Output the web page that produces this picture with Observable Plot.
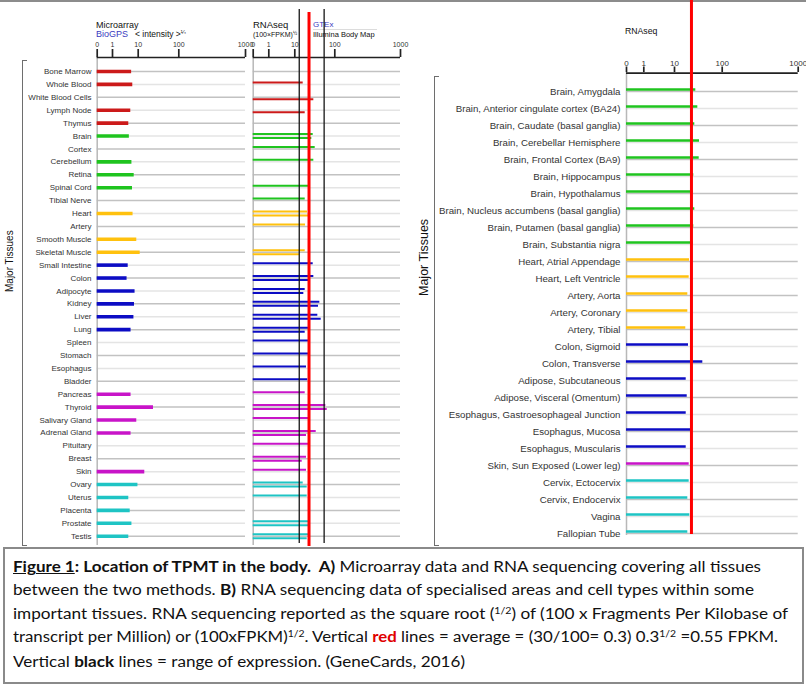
<!DOCTYPE html>
<html><head><meta charset="utf-8">
<script src="https://cdn.jsdelivr.net/npm/d3@7"></script>
<script src="https://cdn.jsdelivr.net/npm/@observablehq/plot@0.6"></script>
<style>
body{margin:0;background:#fff;font-family:"Liberation Sans",Arial,sans-serif;}
#page{position:relative;width:806px;height:690px;overflow:hidden;background:#fff;}
#page svg{position:absolute;top:0;left:0;overflow:visible;max-width:none !important;}
.t{position:absolute;white-space:nowrap;line-height:1;color:#111;}
.t sup{font-size:70%;vertical-align:0.45em;line-height:0;}
.cap{position:absolute;left:13px;white-space:nowrap;font-family:Lato,"Open Sans",sans-serif;font-size:15.5px;color:#111;line-height:1;transform-origin:0 50%;}
.cap sup{font-size:62%;vertical-align:0.55em;line-height:0;}
</style></head><body><div id="page"></div>
<script>
// ---------- data ----------
const xTicks = [0, 1, 10, 100, 1000];

const tissuesA = ["Bone Marrow","Whole Blood","White Blood Cells","Lymph Node","Thymus",
  "Brain","Cortex","Cerebellum","Retina","Spinal Cord","Tibial Nerve",
  "Heart","Artery","Smooth Muscle","Skeletal Muscle",
  "Small Intestine","Colon","Adipocyte","Kidney","Liver","Lung","Spleen","Stomach","Esophagus","Bladder",
  "Pancreas","Thyroid","Salivary Gland","Adrenal Gland","Pituitary","Breast","Skin",
  "Ovary","Uterus","Placenta","Prostate","Testis"];
const groupA = ["blood","blood","blood","blood","blood",
  "nerve","nerve","nerve","nerve","nerve","nerve",
  "muscle","muscle","muscle","muscle",
  "internal","internal","internal","internal","internal","internal","internal","internal","internal","internal",
  "secretory","secretory","secretory","secretory","secretory","secretory","secretory",
  "reproductive","reproductive","reproductive","reproductive","reproductive"];
// Microarray (BioGPS) intensity
const microarrayA = [7.7,8.1,null,7.4,6.7, 6.9,null,7.8,8.6,8.0,null, 8.2,null,9.5,14.4,
  6.5,6.1,8.9,8.7,8.5,7.5,null,null,null,null, 7.5,43.9,9.5,7.5,null,null,24.6, 9.9,6.7,7.2,7.8,6.7];
// RNAseq GTEx (upper bar of each row)
const gtexA = [null,28.9,null,null,null, 51.4,55.9,52.8,null,40.8,33.4, 38.6,34.1,null,33.4,
  51.4,52.8,33.4,66.3,61.8,40.8,43.1,40.8,36.3,39.3, 33.4,79.8,43.8,58.2,43.1,36.3,36.3, 28.9,37.9,null,43.1,40.8];
// RNAseq Illumina Body Map (lower bar of each row)
const illuminaA = [null,null,52.8,33.4,null, 48.3,null,null,null,null,null, 41.5,null,null,21.3,
  null,42.4,30.3,63.3,69.4,33.4,null,null,null,null, null,82.9,null,36.3,null,26.7,null, 37.9,null,null,43.1,37.9];

const tissuesB = ["Brain, Amygdala","Brain, Anterior cingulate cortex (BA24)","Brain, Caudate (basal ganglia)",
  "Brain, Cerebellar Hemisphere","Brain, Frontal Cortex (BA9)","Brain, Hippocampus","Brain, Hypothalamus",
  "Brain, Nucleus accumbens (basal ganglia)","Brain, Putamen (basal ganglia)","Brain, Substantia nigra",
  "Heart, Atrial Appendage","Heart, Left Ventricle","Artery, Aorta","Artery, Coronary","Artery, Tibial",
  "Colon, Sigmoid","Colon, Transverse","Adipose, Subcutaneous","Adipose, Visceral (Omentum)",
  "Esophagus, Gastroesophageal Junction","Esophagus, Mucosa","Esophagus, Muscularis",
  "Skin, Sun Exposed (Lower leg)","Cervix, Ectocervix","Cervix, Endocervix","Vagina","Fallopian Tube"];
const groupB = ["nerve","nerve","nerve","nerve","nerve","nerve","nerve","nerve","nerve","nerve",
  "muscle","muscle","muscle","muscle","muscle",
  "internal","internal","internal","internal","internal","internal","internal",
  "secretory","reproductive","reproductive","reproductive","reproductive"];
const rnaseqB = [50.2,54.0,48.3,57.2,56.6,46.4,45.3,48.3,46.4,45.3,
  38.3,37.7,35.1,35.1,31.3, 36.4,63.4,32.1,34.0,32.1,40.2,32.1, 37.7, 37.7,35.1,38.9,35.1];

const averageExpression = [42];
const expressionRange = [20, 76];

const groups = ["blood","nerve","muscle","internal","secretory","reproductive"];
const palette = ["#cc1a1a","#1fc41f","#ffc10e","#0c0cc4","#c814c8","#1ec4c4"];

// ---------- helpers ----------
const rowsA = tissuesA.map((t,i)=>({tissue:t, group:groupA[i], i, micro:microarrayA[i], gtex:gtexA[i], illu:illuminaA[i]}));
const rowsB = tissuesB.map((t,i)=>({tissue:t, group:groupB[i], i, v:rnaseqB[i]}));
const font = "Liberation Sans, Arial, sans-serif";
const xScale = range => ({type:"linear", domain:xTicks, range, label:null});
const colorOpts = {domain:groups, range:palette};
const gridMarks = rows => [
  Plot.ruleY(rows.filter(d=>d.i%2===0), {y:"tissue", x1:0, x2:1000, stroke:"#c2c2c2", strokeWidth:1.5}),
  Plot.ruleY(rows.filter(d=>d.i%2===1), {y:"tissue", x1:0, x2:1000, stroke:"#e4e4e4", strokeWidth:1.5})
];
const page = document.getElementById("page");
function place(svg, left, width, id, z){ const w=document.createElement("div"); w.id=id;
  w.style.cssText="position:absolute;top:0;left:"+left+"px;width:"+width+"px;height:548px;z-index:"+(z||1)+";pointer-events:none;";
  w.appendChild(svg); page.appendChild(w); }

// top axis drawn in its own plot (ticks point up from the axis line, labels above)
function axisPlot(cfg){
  return Plot.plot({
    width:cfg.width, height:548, marginLeft:cfg.marginLeft, marginRight:cfg.marginRight, marginTop:cfg.marginTop, marginBottom:0,
    style:{background:"transparent", fontFamily:font, fontSize:cfg.fontSize+"px", color:"#333"},
    x:{...xScale(cfg.range), axis:"top", ticks:xTicks, tickFormat:d=>String(d), tickSize:0, tickPadding:cfg.tickLen+cfg.pad},
    y:{type:"point", domain:cfg.domain, range:cfg.yRange, padding:0, axis:null},
    marks:[
      Plot.ruleX(xTicks, {x:d=>d, stroke:"#222", strokeWidth:1.7, insetTop:-cfg.tickLen, insetBottom:548-cfg.marginTop}),
      Plot.ruleY([cfg.domain[0]], {y:d=>d, x1:0, x2:1000, dy:-(cfg.yRange[0]-cfg.marginTop), stroke:"#222", strokeWidth:1.7})
    ]
  });
}

// ---------- Panel A: microarray ----------
const rangeA = [96.7,112,137.7,178.3,245];
const plotA = Plot.plot({
  width:250, height:548, marginLeft:97, marginRight:5, marginTop:57, marginBottom:0,
  style:{background:"transparent", fontFamily:font, fontSize:"8px", color:"#333"},
  x: {...xScale(rangeA), axis:null},
  y: {type:"point", domain:tissuesA, range:[71,535.7], padding:0, axis:"left", tickSize:0, tickPadding:6, label:null},
  color: colorOpts,
  marks:[
    ...gridMarks(rowsA),
    Plot.ruleX([0], {stroke:"#b8b8b8", strokeWidth:1.5, insetBottom:3}),
    Plot.ruleY(rowsA.filter(d=>d.micro!=null), {y:"tissue", x1:0, x2:"micro", stroke:"group", strokeWidth:3.6})
  ]
});
place(plotA, 0, 250, "plotA");

// ---------- Panel A: RNAseq ----------
const rangeR = [2.7,18.3,44.3,84.3,150];
const plotR = Plot.plot({
  width:170, height:548, marginLeft:2.7, marginRight:20, marginTop:57, marginBottom:0,
  style:{background:"transparent", fontFamily:font, fontSize:"7px", color:"#333"},
  x: {...xScale(rangeR), axis:null},
  y: {type:"point", domain:tissuesA, range:[71,535.7], padding:0, axis:null},
  color: colorOpts,
  marks:[
    ...gridMarks(rowsA),
    Plot.ruleX([0], {stroke:"#b8b8b8", strokeWidth:1.5, insetBottom:3}),
    Plot.ruleY(rowsA.filter(d=>d.gtex!=null), {y:"tissue", x1:0, x2:"gtex", stroke:"group", strokeWidth:2, dy:-2}),
    Plot.ruleY(rowsA.filter(d=>d.illu!=null), {y:"tissue", x1:0, x2:"illu", stroke:"group", strokeWidth:2, dy:2})
  ]
});
place(plotR, 250, 170, "plotR");

// ---------- Panel B: RNAseq specialised areas ----------
const rangeB = [206,223.3,254,301.7,377.7];
const plotB = Plot.plot({
  width:386, height:548, marginLeft:206, marginRight:8.3, marginTop:72, marginBottom:0,
  style:{background:"transparent", fontFamily:font, fontSize:"9.7px", color:"#333"},
  x: {...xScale(rangeB), axis:null},
  y: {type:"point", domain:tissuesB, range:[90.3,532.7], padding:0, axis:"left", tickSize:0, tickPadding:6, label:null},
  color: colorOpts,
  marks:[
    ...gridMarks(rowsB),
    Plot.ruleX([0], {stroke:"#b8b8b8", strokeWidth:1.5, insetBottom:13}),
    Plot.ruleY(rowsB, {y:"tissue", x1:0, x2:"v", stroke:"group", strokeWidth:2.6, dy:-2})
  ]
});
place(plotB, 420, 386, "plotB");

// ---------- text, brackets, caption ----------
function txt(html, left, top, size, extra){ const d=document.createElement("div"); d.className="t"; d.innerHTML=html;
  d.style.left=left+"px"; d.style.top=top+"px"; d.style.fontSize=size+"px"; if(extra) d.style.cssText+=extra; page.appendChild(d); return d; }
function box(css){ const d=document.createElement("div"); d.style.cssText="position:absolute;"+css; page.appendChild(d); return d; }

box("left:0;top:0;width:806px;height:2px;background:#8c8c8c;");
txt("Microarray", 96, 20.5, 9);
txt("BioGPS", 96, 29.5, 9, "color:#3b3bc0;");
txt("&lt; intensity &gt;<sup>¼</sup>", 135, 30, 8.5);
txt("RNAseq", 253, 20, 9.5);
txt("(100×FPKM)<sup>½</sup>", 253, 31, 7);
txt("GTEx", 313, 20.5, 8, "color:#3b3bc0;");
box("left:313px;top:28.5px;width:64px;height:1px;background:#dcdcdc;");
txt("Illumina Body Map", 313, 30.5, 7.5);
txt("RNAseq", 625, 27, 8.7);

// rotated "Major Tissues"
const m1 = txt("Major Tissues", 0, 0, 10, "transform-origin:0 0;");
m1.style.left = "5px"; m1.style.top = (261 + 31) + "px"; m1.style.transform = "rotate(-90deg)";
const m2 = txt("Major Tissues", 0, 0, 12.5, "transform-origin:0 0;");
m2.style.left = "418px"; m2.style.top = (257 + 39) + "px"; m2.style.transform = "rotate(-90deg)";

// brackets
box("left:21.5px;top:60px;width:4px;height:484px;border:1.4px solid #6e6e6e;border-right:none;");
box("left:433.5px;top:76px;width:4px;height:468px;border:1.4px solid #6e6e6e;border-right:none;");

// caption box
box("left:3px;top:547px;width:797px;height:133px;border:2px solid #8a8a8a;background:#fff;");
const capLines = [
  ["<b><u>Figure 1</u>: Location of TPMT in the body.&nbsp; A)</b> Microarray data and RNA sequencing covering all tissues", 567, 761],
  ["between the two methods. <b>B)</b> RNA sequencing data of specialised areas and cell types within some", 590, 754],
  ["important tissues. RNA sequencing reported as the square root (<sup>1/2</sup>) of (100 x Fragments Per Kilobase of", 613.5, 788],
  ["transcript per Million) or (100xFPKM)<sup>1/2</sup>. Vertical <b style=\"color:#e00000\">red</b> lines = average = (30/100= 0.3) 0.3<sup>1/2</sup> =0.55 FPKM.", 637, 778],
  ["Vertical <b>black</b> lines = range of expression. (GeneCards, 2016)", 661.5, 465]
];
capLines.forEach(([html, cy, right]) => {
  const d = document.createElement("div"); d.className="cap"; d.innerHTML = html; page.appendChild(d);
  const h = d.getBoundingClientRect().height;
  d.style.top = (cy - h/2) + "px";
  const w = d.getBoundingClientRect().width;
  d.style.transform = "scaleX(" + ((right - 13) / w) + ")";
});

// ---------- axes (on top of everything) ----------
place(axisPlot({width:250, marginLeft:97, marginRight:5, marginTop:57, range:rangeA, domain:tissuesA, yRange:[71,535.7], tickLen:8, pad:2.5, fontSize:7}), 0, 250, "axisA", 10);
place(axisPlot({width:170, marginLeft:2.7, marginRight:20, marginTop:57, range:rangeR, domain:tissuesA, yRange:[71,535.7], tickLen:8, pad:2.5, fontSize:7}), 250, 170, "axisR", 10);
place(axisPlot({width:386, marginLeft:206, marginRight:8.3, marginTop:72, range:rangeB, domain:tissuesB, yRange:[90.3,532.7], tickLen:5.5, pad:1, fontSize:8}), 420, 386, "axisB", 10);

// reference lines drawn above the axes
place(Plot.plot({
  width:170, height:548, marginLeft:2.7, marginRight:20, marginTop:57, marginBottom:0,
  style:{background:"transparent"}, x:{...xScale(rangeR), axis:null},
  marks:[
    Plot.ruleX(expressionRange, {stroke:"#151515", strokeWidth:1.3, insetTop:-48, insetBottom:5}),
    Plot.ruleX(averageExpression, {stroke:"#ff0000", strokeWidth:3, insetTop:-45, insetBottom:2})
  ]}), 250, 170, "linesR", 11);
place(Plot.plot({
  width:386, height:548, marginLeft:206, marginRight:8.3, marginTop:72, marginBottom:0,
  style:{background:"transparent"}, x:{...xScale(rangeB), axis:null},
  marks:[ Plot.ruleX(averageExpression, {stroke:"#ff0000", strokeWidth:3, insetTop:-72, insetBottom:14}) ]
}), 420, 386, "linesB", 11);
</script>
</body></html>
